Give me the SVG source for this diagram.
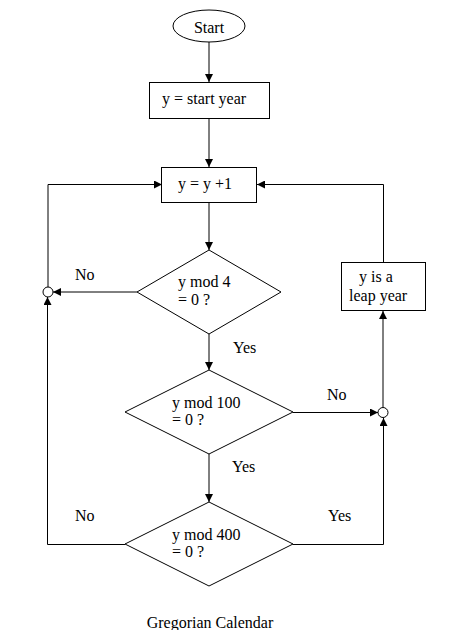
<svg xmlns="http://www.w3.org/2000/svg" width="450" height="630" viewBox="0 0 450 630">
<style>
.s{fill:#fff;stroke:#000;stroke-width:1}
.c{fill:none;stroke:#000;stroke-width:1}
text{font-family:"Liberation Serif","Times New Roman",serif;font-size:16px;fill:#000}
</style>
<defs>
<marker id="ah" viewBox="0 0 10 10" refX="10" refY="5" markerWidth="8" markerHeight="8" markerUnits="userSpaceOnUse" orient="auto">
<path d="M0,0 L10,5 L0,10 Z" fill="#000"/>
</marker>
</defs>
<rect width="450" height="630" fill="#fff"/>
<g id="connectors">
<line class="c" x1="209" y1="42" x2="209" y2="82" marker-end="url(#ah)"/>
<line class="c" x1="209" y1="118" x2="209" y2="167" marker-end="url(#ah)"/>
<line class="c" x1="209" y1="202" x2="209" y2="250" marker-end="url(#ah)"/>
<line class="c" x1="137" y1="292" x2="53" y2="292" marker-end="url(#ah)"/>
<polyline class="c" points="48,287 48,184.5 162,184.5" marker-end="url(#ah)"/>
<line class="c" x1="209" y1="334" x2="209" y2="370" marker-end="url(#ah)"/>
<line class="c" x1="293" y1="412.5" x2="378" y2="412.5" marker-end="url(#ah)"/>
<line class="c" x1="383" y1="407" x2="383" y2="311" marker-end="url(#ah)"/>
<polyline class="c" points="383.5,262 383.5,184.5 257,184.5" marker-end="url(#ah)"/>
<line class="c" x1="209" y1="454" x2="209" y2="502" marker-end="url(#ah)"/>
<polyline class="c" points="125,544.5 47.5,544.5 47.5,297" marker-end="url(#ah)"/>
<polyline class="c" points="293,544.5 383.5,544.5 383.5,418" marker-end="url(#ah)"/>
<circle class="s" cx="48" cy="292" r="5"/>
<circle class="s" cx="383" cy="412.5" r="5"/>
<text x="75" y="280">No</text>
<text x="233" y="353">Yes</text>
<text x="327" y="400">No</text>
<text x="232" y="472">Yes</text>
<text x="75" y="521">No</text>
<text x="328" y="521">Yes</text>
</g>
<g id="start">
<ellipse class="s" cx="209" cy="26" rx="36" ry="16"/>
<text x="209" y="33" text-anchor="middle">Start</text>
</g>
<g id="init">
<rect class="s" x="149.5" y="82.5" width="120" height="36"/>
<text x="162" y="104">y = start year</text>
</g>
<g id="increment">
<rect class="s" x="161.5" y="167.5" width="95" height="35"/>
<text x="178" y="189">y = y +1</text>
</g>
<g id="mod4">
<polygon class="s" points="209,250 281,292 209,334 137,292"/>
<text x="178" y="287">y mod 4</text>
<text x="178" y="305">= 0 ?</text>
</g>
<g id="mod100">
<polygon class="s" points="209,370 293,412 209,454 125,412"/>
<text x="172" y="408">y mod 100</text>
<text x="172" y="425">= 0 ?</text>
</g>
<g id="mod400">
<polygon class="s" points="209,502 293,544 209,586 125,544"/>
<text x="172" y="540">y mod 400</text>
<text x="172" y="557">= 0 ?</text>
</g>
<g id="leap">
<rect class="s" x="341.5" y="262.5" width="84" height="48"/>
<text x="359" y="282">y is a</text>
<text x="349" y="301">leap year</text>
</g>
<text x="210" y="628" text-anchor="middle">Gregorian Calendar</text>
</svg>
